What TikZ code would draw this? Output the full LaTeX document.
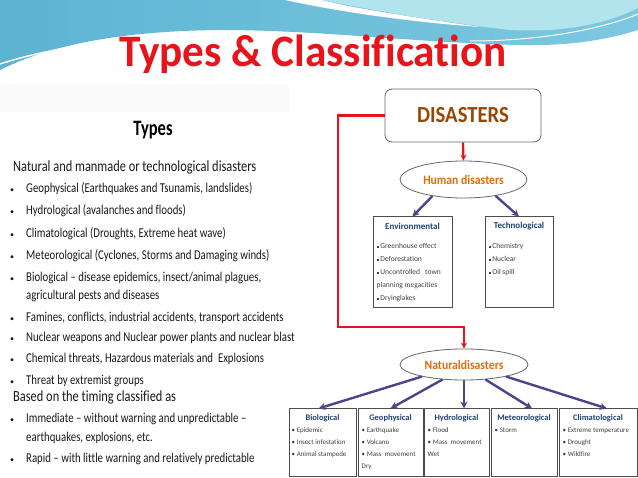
\documentclass[tikz,border=0pt]{standalone}
\usepackage{fontspec}
\setmainfont{Carlito}[Ligatures=NoCommon]
\usetikzlibrary{arrows.meta,shapes.geometric}

\definecolor{titlered}{RGB}{232,20,28}
\definecolor{rootbrown}{RGB}{151,72,6}
\definecolor{grouporange}{RGB}{227,108,9}
\definecolor{headblue}{RGB}{35,64,120}
\definecolor{linkpurple}{RGB}{80,66,140}
\definecolor{linkred}{RGB}{228,20,30}
\definecolor{skydark}{RGB}{92,180,210}
\definecolor{skymid}{RGB}{125,200,225}
\definecolor{skylight}{RGB}{178,228,238}

\newcommand{\sqz}[1]{\scalebox{0.8}[1]{#1}}
\newcommand{\bul}[1]{\makebox[16pt][l]{\raisebox{0.5pt}{\scalebox{0.6}{\textbullet}}}\sqz{#1}}
\newcommand{\cont}[1]{\makebox[16pt][l]{}\sqz{#1}}
\newcommand{\sq}{\rule[1pt]{2pt}{2pt}\ }

\begin{document}
\begin{tikzpicture}[
  x=1pt,y=-1pt,
  typeline/.style={anchor=base west,inner sep=0,text=black!90,font=\fontsize{15.5}{18}\selectfont},
  subline/.style={typeline,font=\fontsize{13.5}{16}\selectfont},
  rootbox/.style={draw=black!60,rounded corners=7pt,line width=0.8pt,fill=white,minimum width=156pt,minimum height=53pt,
    font=\fontsize{23}{26}\selectfont\bfseries,text=rootbrown},
  groupnode/.style={draw=black!60,ellipse,line width=0.8pt,fill=white,inner sep=0,
    font=\fontsize{13}{15}\selectfont\bfseries,text=grouporange},
  catbox/.style={draw=black!70,line width=1pt,fill=white,inner sep=0},
  cathead/.style={inner sep=0,text=headblue,font=\fontsize{8.5}{10}\selectfont\bfseries},
  catlist/.style={anchor=north west,inner sep=0,align=left,text=black!75,font=\fontsize{7}{12}\selectfont},
  redlink/.style={linkred,line width=2.2pt,-{Stealth[length=6pt,width=6pt]}},
  purplelink/.style={linkpurple,line width=2.4pt,-{Stealth[length=7pt,width=7pt]}}
]
  \useasboundingbox (0,0) rectangle (638,478);

  % header swoosh
  \shade[left color=skydark,right color=skymid]
    (0,0) -- (638,0) -- (638,30) .. controls (600,42) and (560,46) .. (520,45)
    .. controls (420,43) and (320,30) .. (220,30) .. controls (120,31) and (50,45) .. (0,70) -- cycle;
  \fill[white] (285,0) .. controls (340,12) and (410,22) .. (480,27)
    .. controls (420,18) and (350,8) .. (322,0) -- cycle;
  \fill[skylight] (322,0) .. controls (370,10) and (440,22) .. (510,30)
    .. controls (570,33) and (610,22) .. (638,8) -- (638,0) -- cycle;
  \draw[white,line width=1.5pt] (0,64) .. controls (80,38) and (200,30) .. (330,35);
  \draw[white,line width=1pt] (470,41) .. controls (550,41) and (610,26) .. (638,14);
  \fill[black!2] (0,84) rectangle (289,112);

  \node[anchor=base,inner sep=0,text=titlered,font=\fontsize{45}{50}\selectfont\bfseries] (title) at (313,67)
    {\scalebox{0.96}[1]{Types \& Classification}};

  % left column
  \node[anchor=base,inner sep=0,font=\fontsize{22}{24}\selectfont\bfseries] (types) at (153,136) {\scalebox{0.75}[1]{Types}};
  \node[typeline] (l1) at (13,172) {\sqz{Natural and manmade or technological disasters}};
  \node[subline] (l2) at (10,193) {\bul{Geophysical (Earthquakes and Tsunamis, landslides)}};
  \node[subline] (l3) at (10,215) {\bul{Hydrological (avalanches and floods)}};
  \node[subline] (l4) at (10,238) {\bul{Climatological (Droughts, Extreme heat wave)}};
  \node[subline] (l5) at (10,260) {\bul{Meteorological (Cyclones, Storms and Damaging winds)}};
  \node[subline] (l6) at (10,282) {\bul{Biological -- disease epidemics, insect/animal plagues,}};
  \node[subline] (l7) at (10,300) {\cont{agricultural pests and diseases}};
  \node[subline] (l8) at (10,322) {\bul{Famines, conflicts, industrial accidents, transport accidents}};
  \node[subline] (l9) at (10,342) {\bul{Nuclear weapons and Nuclear power plants and nuclear blast}};
  \node[subline] (l10) at (10,363) {\bul{Chemical threats, Hazardous materials and \ Explosions}};
  \node[subline] (l11) at (10,385) {\bul{Threat by extremist groups}};
  \node[typeline] (l12) at (13,402) {\sqz{Based on the timing classified as}};
  \node[subline] (l13) at (10,423) {\bul{Immediate -- without warning and unpredictable --}};
  \node[subline] (l14) at (10,442) {\cont{earthquakes, explosions, etc.}};
  \node[subline] (l15) at (10,463) {\bul{Rapid -- with little warning and relatively predictable}};

  % tree
  \node[rootbox] (disasters) at (463,115.5) {\scalebox{0.9}[1]{DISASTERS}};
  \node[groupnode,minimum width=127pt,minimum height=37pt] (human) at (463.5,179.5) {\scalebox{0.9}[1]{Human disasters}};
  \node[groupnode,minimum width=128pt,minimum height=31pt] (natural) at (464,364.5) {\scalebox{0.9}[1]{Naturaldisasters}};

  \node[catbox,minimum width=79pt,minimum height=91pt] (env) at (412.5,262.5) {};
  \node[catbox,minimum width=68pt,minimum height=91pt] (tech) at (519,262.5) {};
  \node[cathead,font=\fontsize{9}{10}\selectfont\bfseries] (env-head) at ([yshift=-10pt]env.north) {Environmental};
  \node[cathead,font=\fontsize{9}{10}\selectfont\bfseries] (tech-head) at ([yshift=-10pt]tech.north) {Technological};
  \node[catlist,font=\fontsize{7.5}{13}\selectfont] (env-list) at ([xshift=4pt,yshift=-27pt]env.north west)
    {\sq Greenhouse effect\\ \sq Deforestation\\ \sq Uncontrolled \ \ town\\ planning megacities\\ \sq Dryinglakes};
  \node[catlist,font=\fontsize{7.5}{13}\selectfont] (tech-list) at ([xshift=4pt,yshift=-27pt]tech.north west)
    {\sq Chemistry\\ \sq Nuclear\\ \sq Oil spill};

  \node[catbox,minimum width=67pt,minimum height=68pt] (bio) at (322.5,443) {};
  \node[catbox,minimum width=65pt,minimum height=68pt] (geo) at (390.5,443) {};
  \node[catbox,minimum width=65pt,minimum height=68pt] (hyd) at (456.5,443) {};
  \node[catbox,minimum width=66pt,minimum height=68pt] (met) at (524,443) {};
  \node[catbox,minimum width=78pt,minimum height=68pt] (cli) at (598,443) {};

  \node[cathead] (bio-head) at ([yshift=-10pt]bio.north) {Biological};
  \node[cathead] (geo-head) at ([yshift=-10pt]geo.north) {Geophysical};
  \node[cathead] (hyd-head) at ([yshift=-10pt]hyd.north) {Hydrological};
  \node[cathead] (met-head) at ([yshift=-10pt]met.north) {Meteorological};
  \node[cathead] (cli-head) at ([yshift=-10pt]cli.north) {Climatological};

  \node[catlist] (bio-list) at ([xshift=3pt,yshift=-19pt]bio.north west)
    {\textbullet\ Epidemic\\ \textbullet\ Insect infestation\\ \textbullet\ Animal stampede};
  \node[catlist] (geo-list) at ([xshift=4pt,yshift=-19pt]geo.north west)
    {\textbullet\ Earthquake\\ \textbullet\ Volcano\\ \textbullet\ Mass \ movement\\ Dry};
  \node[catlist] (hyd-list) at ([xshift=4pt,yshift=-19pt]hyd.north west)
    {\textbullet\ Flood\\ \textbullet\ Mass \ movement\\ Wet};
  \node[catlist] (met-list) at ([xshift=4pt,yshift=-19pt]met.north west)
    {\textbullet\ Storm};
  \node[catlist] (cli-list) at ([xshift=4pt,yshift=-19pt]cli.north west)
    {\textbullet\ Extreme temperature\\ \textbullet\ Drought\\ \textbullet\ Wildfire};

  % connectors
  \coordinate (redturn) at (338,327);
  \draw[redlink] (disasters.south) -- (human.north);
  \draw[redlink,line join=miter] (disasters.west) -| (redturn) -| (natural.north);

  \draw[purplelink] (human.208) -- (env.north);
  \draw[purplelink] (human.333) -- (tech.north);
  \draw[purplelink] (natural.196) -- ([xshift=-4pt]bio.north);
  \draw[purplelink] (natural.215) -- (geo.north);
  \draw[purplelink] (natural.south) -- (natural.south |- hyd.north);
  \draw[purplelink] (natural.325) -- ([xshift=8pt]met.north);
  \draw[purplelink] (natural.344) -- ([xshift=9pt]cli.north);
\end{tikzpicture}
\end{document}
